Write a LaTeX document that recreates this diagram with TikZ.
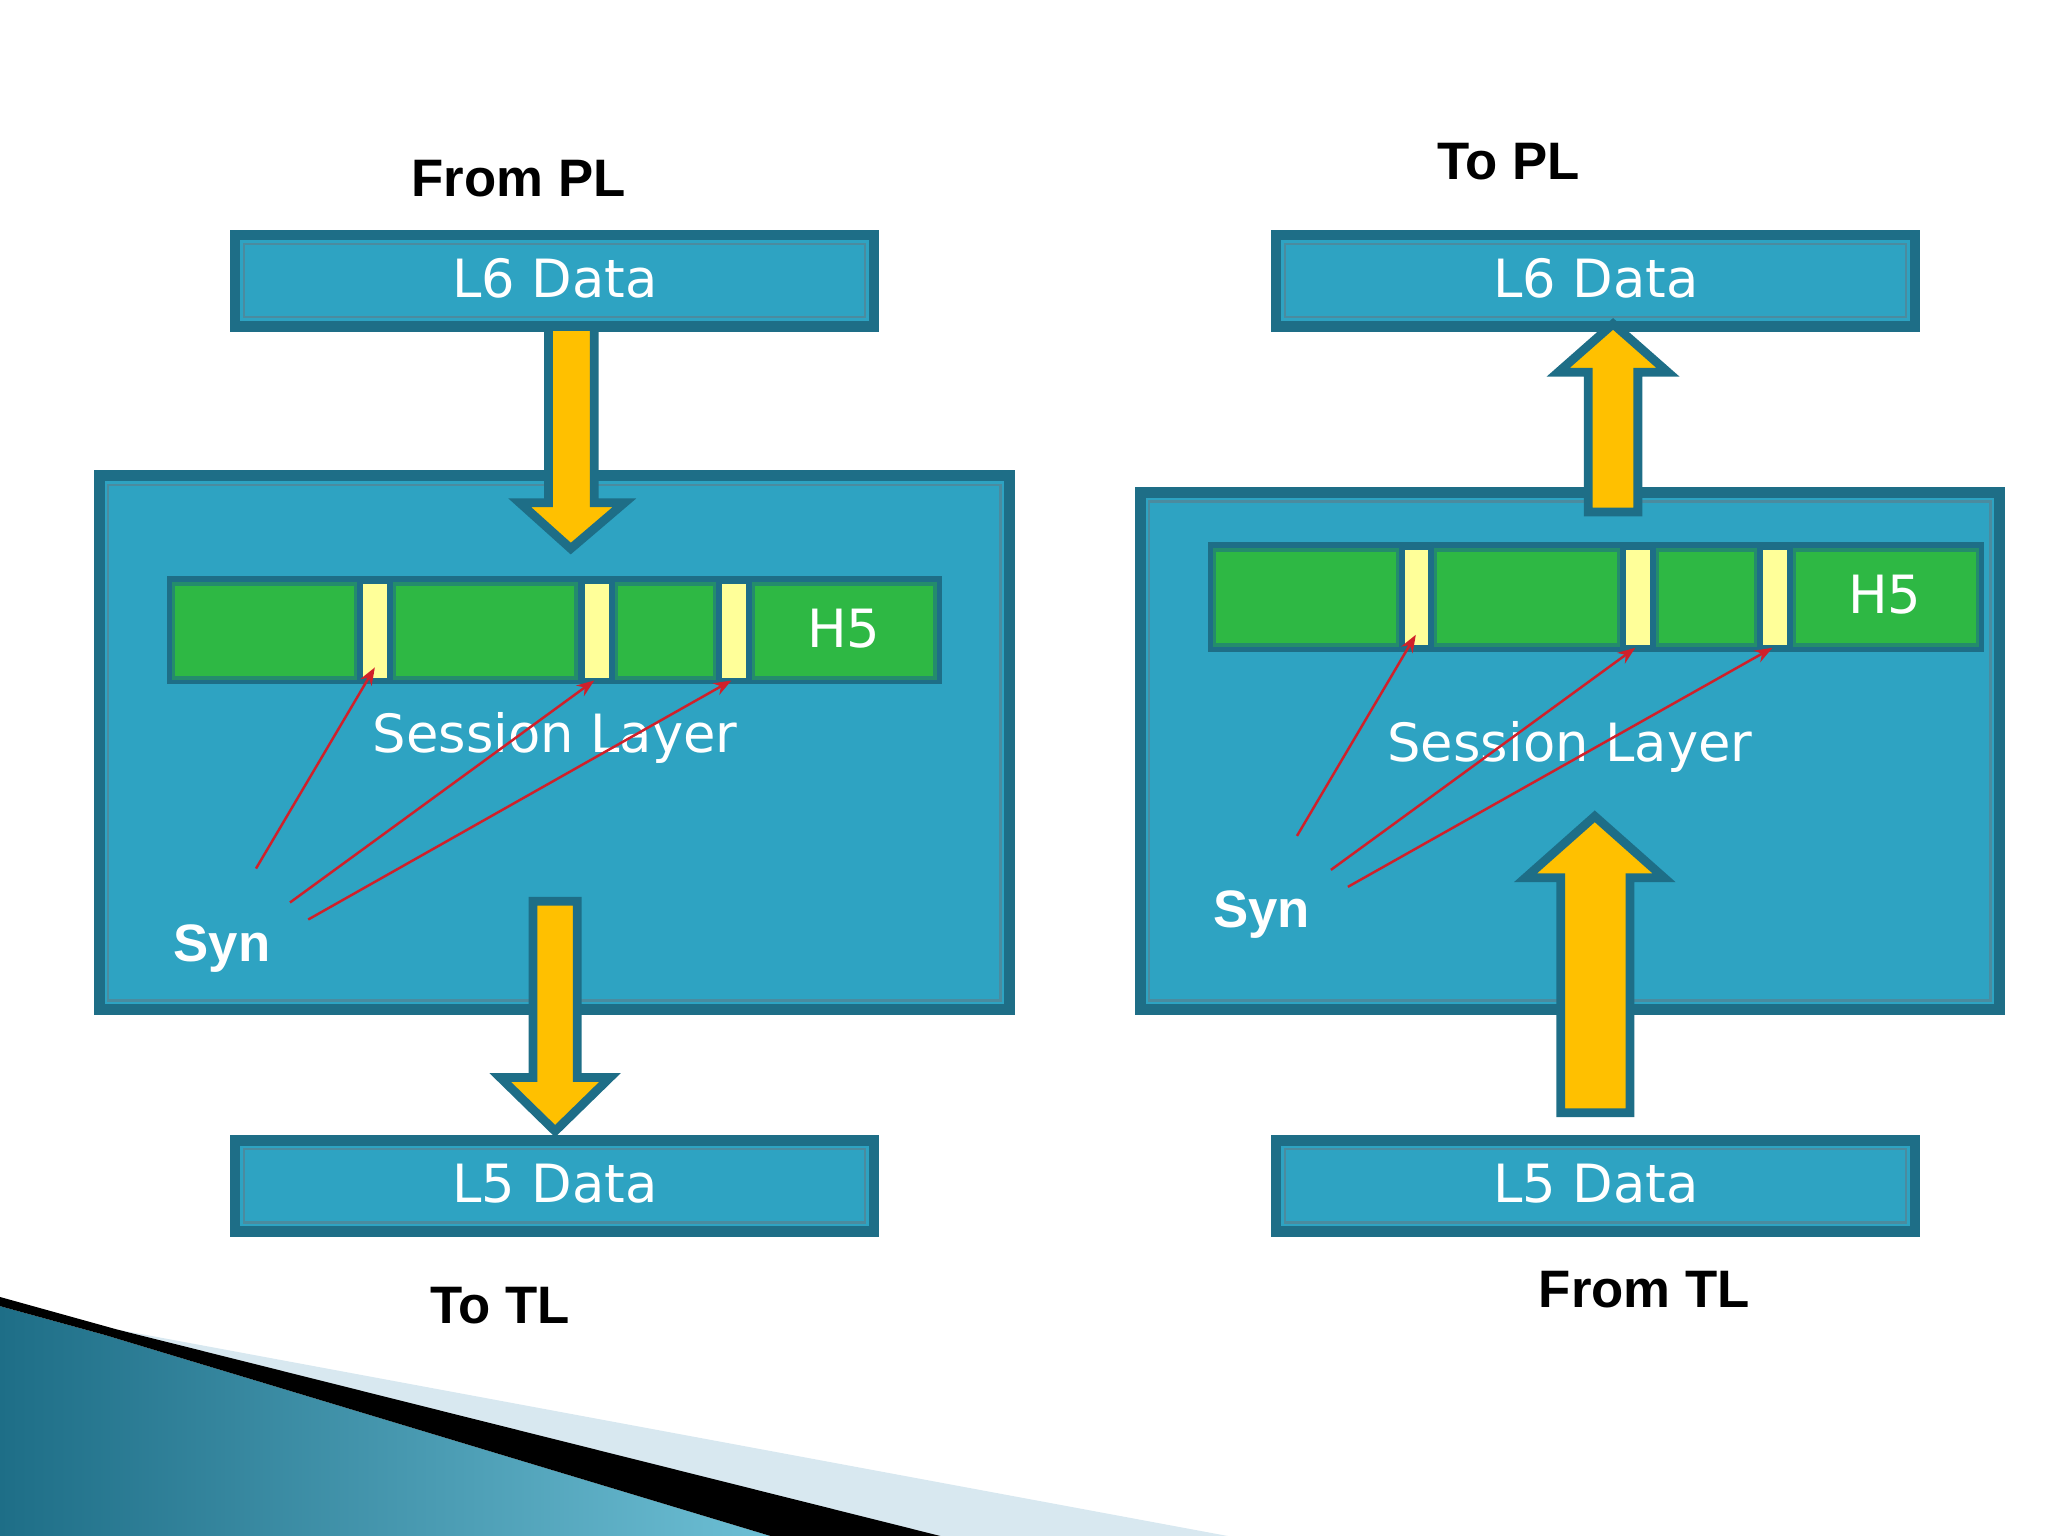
\documentclass[tikz,border=0pt]{standalone}
\usepackage{fontspec}
\setmainfont{DejaVu Sans}
\newfontfamily\labelfont{Liberation Sans}
\usetikzlibrary{arrows.meta}
\definecolor{boxblue}{HTML}{2EA3C2}
\definecolor{edge}{HTML}{1E6E87}
\definecolor{segg}{HTML}{2EB844}
\definecolor{segy}{HTML}{FFFF99}
\definecolor{arrowy}{HTML}{FFC000}
\definecolor{synred}{HTML}{D0202A}
\definecolor{pale}{HTML}{D8E8F0}
\begin{document}
\begin{tikzpicture}[x=0.01306cm, y=-0.01306cm,
  panel/.style={fill=boxblue, draw=edge, line width=3pt},
  inner/.style={draw=edge!80, line width=0.6pt},
  seg/.style={fill=segg, draw=edge!60!segg, line width=1pt},
  ysep/.style={fill=segy, draw=none},
  white/.style={text=white, font=\fontsize{15}{18}\selectfont},
  tag/.style={text=black, font=\labelfont\bfseries\fontsize{15}{18}\selectfont},
  syn/.style={text=white, font=\labelfont\bfseries\fontsize{15}{18}\selectfont},
  flow/.style={fill=arrowy, draw=edge, line width=2.5pt, line join=miter},
  synarrow/.style={-{Stealth[length=5pt]}, synred, line width=0.7pt},
]
\useasboundingbox (0,0) rectangle (1568,1176);

% bottom-left decoration
\fill[pale] (90,1018) -- (940,1176) -- (700,1176) -- cycle;
\shade[left color=edge, right color=boxblue!70!white] (0,1000) -- (80,1022) -- (590,1176) -- (0,1176) -- cycle;
\fill[black] (0,993) -- (90,1018) -- (720,1176) -- (590,1176) -- (80,1022) -- (0,1000) -- cycle;

% ---------------- left side ----------------
\node[tag] (fpl) at (397,137) {From PL};
\draw[panel] (180,180) rectangle (669,250);
\draw[inner] (187,187) rectangle (662,243);
\node[white] (l6a) at (425,213) {L6 Data};

\draw[panel] (76,364) rectangle (773,773);
\draw[inner] (83,371) rectangle (766,766);

\fill[edge] (128,441) rectangle (721,524);
\draw[seg] (133,447) rectangle (272,519);
\fill[ysep] (278,447) rectangle (296,519);
\draw[seg] (302,447) rectangle (441,519);
\fill[ysep] (448,447) rectangle (466,519);
\draw[seg] (472,447) rectangle (547,519);
\fill[ysep] (553,447) rectangle (571,519);
\draw[seg] (577,447) rectangle (716,519);
\node[white] (h5a) at (646,481) {H5};
\coordinate (sa1) at (287,511);
\coordinate (sa2) at (455,521);
\coordinate (sa3) at (560,521);

\node[white] (sla) at (425,565) {Session Layer};
\node[syn] (syna) at (170,726) {Syn};
\coordinate (ra1) at (196,665);
\coordinate (ra2) at (222,691);
\coordinate (ra3) at (236,704);
\draw[synarrow] (ra1) -- (sa1);
\draw[synarrow] (ra2) -- (sa2);
\draw[synarrow] (ra3) -- (sa3);

% down arrows
\draw[flow] (420,250) -- (455,250) -- (455,385) -- (478,385) -- (437,420) -- (398,385) -- (420,385) -- cycle;
\draw[flow] (408,690) -- (442,690) -- (442,825) -- (467,825) -- (425,866) -- (383,825) -- (408,825) -- cycle;

\draw[panel] (180,873) rectangle (669,943);
\draw[inner] (187,880) rectangle (662,936);
\node[white] (l5a) at (425,906) {L5 Data};
\node[tag] (ttl) at (383,1000) {To TL};

% ---------------- right side ----------------
\node[tag] (tpl) at (1155,124) {To PL};
\draw[panel] (977,180) rectangle (1466,250);
\draw[inner] (984,187) rectangle (1459,243);
\node[white] (l6b) at (1222,213) {L6 Data};

\draw[panel] (873,377) rectangle (1531,773);
\draw[inner] (880,384) rectangle (1524,766);

\fill[edge] (925,415) rectangle (1519,499);
\draw[seg] (930,421) rectangle (1070,494);
\fill[ysep] (1076,421) rectangle (1093,494);
\draw[seg] (1099,421) rectangle (1239,494);
\fill[ysep] (1245,421) rectangle (1263,494);
\draw[seg] (1269,421) rectangle (1344,494);
\fill[ysep] (1350,421) rectangle (1368,494);
\draw[seg] (1374,421) rectangle (1514,494);
\node[white] (h5b) at (1443,455) {H5};
\coordinate (sb1) at (1084,486);
\coordinate (sb2) at (1252,496);
\coordinate (sb3) at (1357,496);

\node[white] (slb) at (1202,572) {Session Layer};
\node[syn] (synb) at (966,700) {Syn};
\coordinate (rb1) at (993,640);
\coordinate (rb2) at (1019,666);
\coordinate (rb3) at (1032,679);
\draw[synarrow] (rb1) -- (sb1);
\draw[synarrow] (rb2) -- (sb2);
\draw[synarrow] (rb3) -- (sb3);

% up arrows
\draw[flow] (1216,392) -- (1254,392) -- (1254,285) -- (1277,285) -- (1235,248) -- (1193,285) -- (1216,285) -- cycle;
\draw[flow] (1195,852) -- (1248,852) -- (1248,672) -- (1274,672) -- (1221,625) -- (1168,672) -- (1195,672) -- cycle;

\draw[panel] (977,873) rectangle (1466,943);
\draw[inner] (984,880) rectangle (1459,936);
\node[white] (l5b) at (1222,906) {L5 Data};
\node[tag] (ftl) at (1259,987) {From TL};
\end{tikzpicture}
\end{document}
